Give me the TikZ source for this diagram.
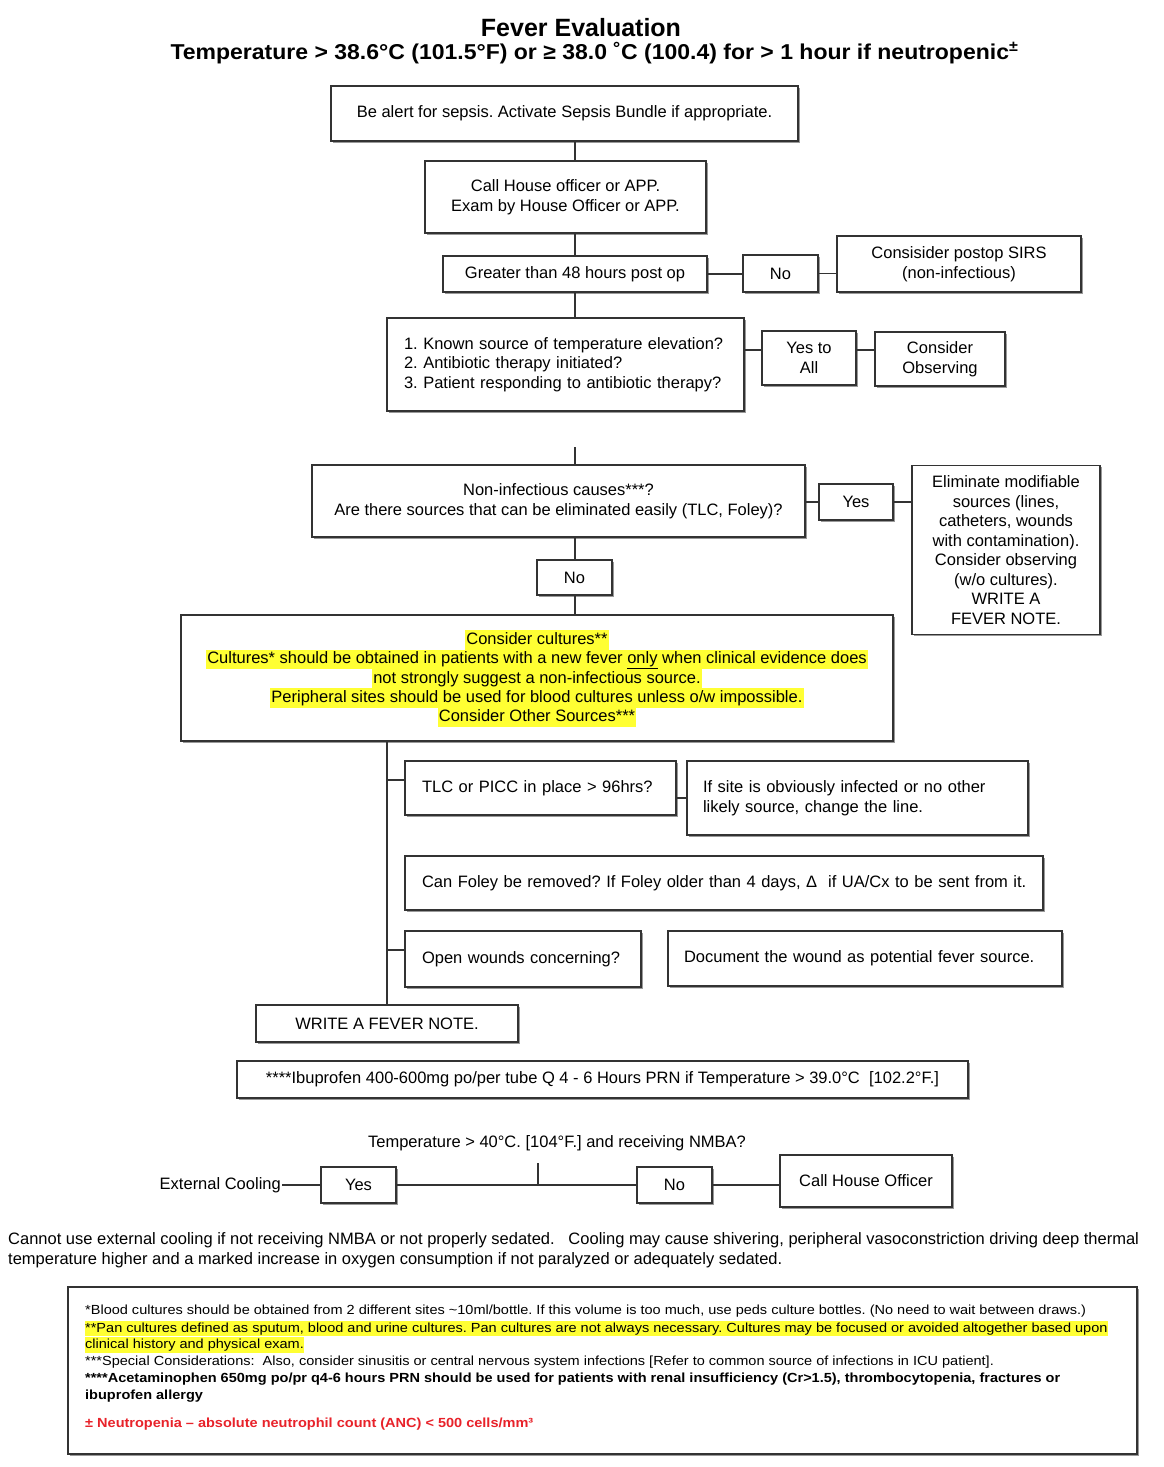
\documentclass[tikz,border=0pt]{standalone}
\usepackage{fontspec}
\setmainfont{Liberation Sans}
\newfontfamily\footfam[FakeStretch=1.1]{Liberation Sans}
\newfontfamily\subfam[FakeStretch=1.07]{Liberation Sans}
\usetikzlibrary{shadows,calc}
\definecolor{hl}{HTML}{FFFF33}
\definecolor{redtxt}{HTML}{E8222A}
\newcommand\bodyfont{\fontsize{16.5}{19.5}\selectfont}
\newcommand\footfont{\footfam\fontsize{13.2}{17}\selectfont}
\frenchspacing
\begin{document}
\begin{tikzpicture}[x=1pt,y=-1pt,
  box/.style={draw=black!80, line width=1.2pt, fill=white,
    drop shadow={shadow xshift=1.5pt,shadow yshift=-1.5pt,fill=black!40,opacity=1},
    inner sep=0pt, align=center, font=\bodyfont},
  lbox/.style={box, align=left, inner xsep=17pt},
  conn/.style={draw=black!80, line width=1.3pt},
  txt/.style={inner sep=0pt, font=\bodyfont},
  hlt/.style={fill=hl, inner xsep=1pt, inner ysep=0pt, text height=14pt, text depth=5.3pt, font=\bodyfont},
  ftxt/.style={anchor=west, inner xsep=0pt, inner ysep=0pt, text height=11.5pt, text depth=4pt, font=\footfont},
]
\useasboundingbox (0,0) rectangle (1164,1467);
\fill[white] (0,0) rectangle (1164,1467);

% Title
\node[inner sep=0pt, font=\bfseries\fontsize{25}{30}\selectfont] (title) at (581,28) {Fever Evaluation};
\node[inner sep=0pt, font=\subfam\bfseries\fontsize{21.5}{24}\selectfont] (subtitle) at (594.5,53)
  {Temperature > 38.6°C (101.5°F) or ≥ 38.0 ˚C (100.4) for > 1 hour if neutropenic\textsuperscript{±}};

% Top chain
\node[box, minimum width=467pt, minimum height=55pt] (b1) at (564.5,113.5)
  {Be alert for sepsis. Activate Sepsis Bundle if appropriate.};
\node[box, minimum width=281pt, minimum height=72pt] (b2) at (565.5,197)
  {Call House officer or APP.\\Exam by House Officer or APP.};
\node[box, minimum width=264pt, minimum height=36pt] (b3) at (575,274)
  {Greater than 48 hours post op};
\node[box, minimum width=75pt, minimum height=37pt] (no1) at (780.5,273.5) {No};
\node[box, minimum width=244pt, minimum height=56pt] (sirs) at (959,264)
  {Consisider postop SIRS\\(non-infectious)};
\node[lbox, text width=323pt, minimum height=93pt] (b4) at (565.5,364.5)
  {1. Known source of temperature elevation?\\2. Antibiotic therapy initiated?\\3. Patient responding to antibiotic therapy?};
\node[box, minimum width=94pt, minimum height=54pt] (yesall) at (809,358) {Yes to\\All};
\node[box, minimum width=130pt, minimum height=54pt] (obs) at (940,359) {Consider\\Observing};

\node[box, minimum width=493pt, minimum height=72pt] (b5) at (558.5,501)
  {Non-infectious causes***?\\Are there sources that can be eliminated easily (TLC, Foley)?};
\node[box, minimum width=74pt, minimum height=36pt] (yes1) at (856,502) {Yes};
\node[box, minimum width=188pt, minimum height=169pt] (elim) at (1006,550)
  {Eliminate modifiable\\sources (lines,\\catheters, wounds\\with contamination).\\Consider observing\\(w/o cultures).\\WRITE A\\FEVER NOTE.};
\node[box, minimum width=75pt, minimum height=35pt] (no2) at (574.5,577.5) {No};

\node[box, minimum width=712pt, minimum height=126pt] (cult) at (537,678) {};
\node[hlt] (c1) at (537,640) {Consider cultures**};
\node[hlt] (c2) at (537,659.5) {Cultures* should be obtained in patients with a new fever \underline{only} when clinical evidence does};
\node[hlt] (c3) at (537,679) {not strongly suggest a non-infectious source.};
\node[hlt] (c4) at (537,698) {Peripheral sites should be used for blood cultures unless o/w impossible.};
\node[hlt] (c5) at (537,717) {Consider Other Sources***};

\node[lbox, text width=237pt, minimum height=54pt] (tlc) at (540.5,788) {TLC or PICC in place > 96hrs?};
\node[lbox, inner xsep=16pt, text width=309pt, minimum height=74pt] (site) at (857.5,798)
  {If site is obviously infected or no other\\likely source, change the line.};
\node[lbox, text width=604pt, minimum height=54pt] (foley) at (724,883)
  {\mbox{Can Foley be removed? If Foley older than 4 days, Δ\ \ if UA/Cx to be sent from it.}};
\node[lbox, text width=202pt, minimum height=56pt] (wound) at (523,959) {Open wounds concerning?};
\node[lbox, inner xsep=16pt, text width=362pt, minimum height=55pt] (doc) at (865,958.5)
  {Document the wound as potential fever source.};
\node[box, minimum width=262pt, minimum height=37pt] (write) at (387,1023.5) {WRITE A FEVER NOTE.};
\node[box, minimum width=731pt, minimum height=37pt] (ibu) at (602.5,1079.5)
  {****Ibuprofen 400-600mg po/per tube Q 4 - 6 Hours PRN if Temperature > 39.0°C\ \ [102.2°F.]};

% Cooling
\node[txt] (temp) at (557,1143) {Temperature > 40°C. [104°F.] and receiving NMBA?};
\node[txt, anchor=east, inner xsep=1pt] (ext) at (282,1185) {External Cooling};
\node[box, minimum width=75pt, minimum height=36pt] (yes2) at (358.5,1185) {Yes};
\node[box, minimum width=75pt, minimum height=36pt] (no3) at (674.5,1185) {No};
\node[box, minimum width=172pt, minimum height=52pt] (call) at (866,1181) {Call House Officer};
\coordinate (tick) at (538,1163);

\node[txt, anchor=west, align=left] (para) at (8,1250)
  {Cannot use external cooling if not receiving NMBA or not properly sedated.\ \ \ Cooling may cause shivering, peripheral vasoconstriction driving deep thermal\\temperature higher and a marked increase in oxygen consumption if not paralyzed or adequately sedated.};

% Footnotes
\node[box, minimum width=1069pt, minimum height=167pt] (foot) at (602.5,1370.5) {};
\node[ftxt] (f1) at (85,1311) {*Blood cultures should be obtained from 2 different sites \textasciitilde10ml/bottle. If this volume is too much, use peds culture bottles. (No need to wait between draws.)};
\node[ftxt, fill=hl] (f2) at (85,1328.5) {**Pan cultures defined as sputum, blood and urine cultures. Pan cultures are not always necessary. Cultures may be focused or avoided altogether based upon};
\node[ftxt, fill=hl] (f3) at (85,1345) {clinical history and physical exam.};
\node[ftxt] (f4) at (85,1362) {***Special Considerations:\ \ Also, consider sinusitis or central nervous system infections [Refer to common source of infections in ICU patient].};
\node[ftxt, font=\footfont\bfseries] (f5) at (85,1379) {****Acetaminophen 650mg po/pr q4-6 hours PRN should be used for patients with renal insufficiency (Cr>1.5), thrombocytopenia, fractures or};
\node[ftxt, font=\footfont\bfseries] (f6) at (85,1396) {ibuprofen allergy};
\node[ftxt, font=\footfont\bfseries, text=redtxt] (f7) at (85,1424) {± Neutropenia – absolute neutrophil count (ANC) < 500 cells/mm³};

% Connectors
\coordinate (sp) at (575,0);
\coordinate (sp2) at (387,0);
\coordinate (r4) at (0,350);
\coordinate (gaptop) at (575,447);
\coordinate (ytlc) at (0,780);
\coordinate (ywd) at (0,950);
\draw[conn] (b1.south -| sp) -- (b2.north -| sp);
\draw[conn] (b2.south -| sp) -- (b3.north -| sp);
\draw[conn] (b3.east) -- (no1.west |- b3.east);
\draw[conn] (no1.east) -- (sirs.west |- no1.east);
\draw[conn] (b3.south -| sp) -- (b4.north -| sp);
\draw[conn] (b4.east |- r4) -- (yesall.west |- r4);
\draw[conn] (yesall.east |- r4) -- (obs.west |- r4);
\draw[conn] (gaptop) -- (b5.north -| gaptop);
\draw[conn] (b5.east |- yes1.west) -- (yes1.west);
\draw[conn] (yes1.east) -- (elim.west |- yes1.east);
\draw[conn] (b5.south -| sp) -- (no2.north -| sp);
\draw[conn] (no2.south -| sp) -- (cult.north -| sp);
\draw[conn] (cult.south -| sp2) -- (write.north);
\draw[conn] (sp2 |- ytlc) -- (tlc.west |- ytlc);
\draw[conn] (tlc.east |- site.west) -- (site.west);
\draw[conn] (sp2 |- ywd) -- (wound.west |- ywd);
\draw[conn] (tick) -- (tick |- yes2.west);
\draw[conn] (ext.east) -- (yes2.west);
\draw[conn] (yes2.east) -- (no3.west);
\draw[conn] (no3.east) -- (call.west |- no3.east);
\end{tikzpicture}
\end{document}
